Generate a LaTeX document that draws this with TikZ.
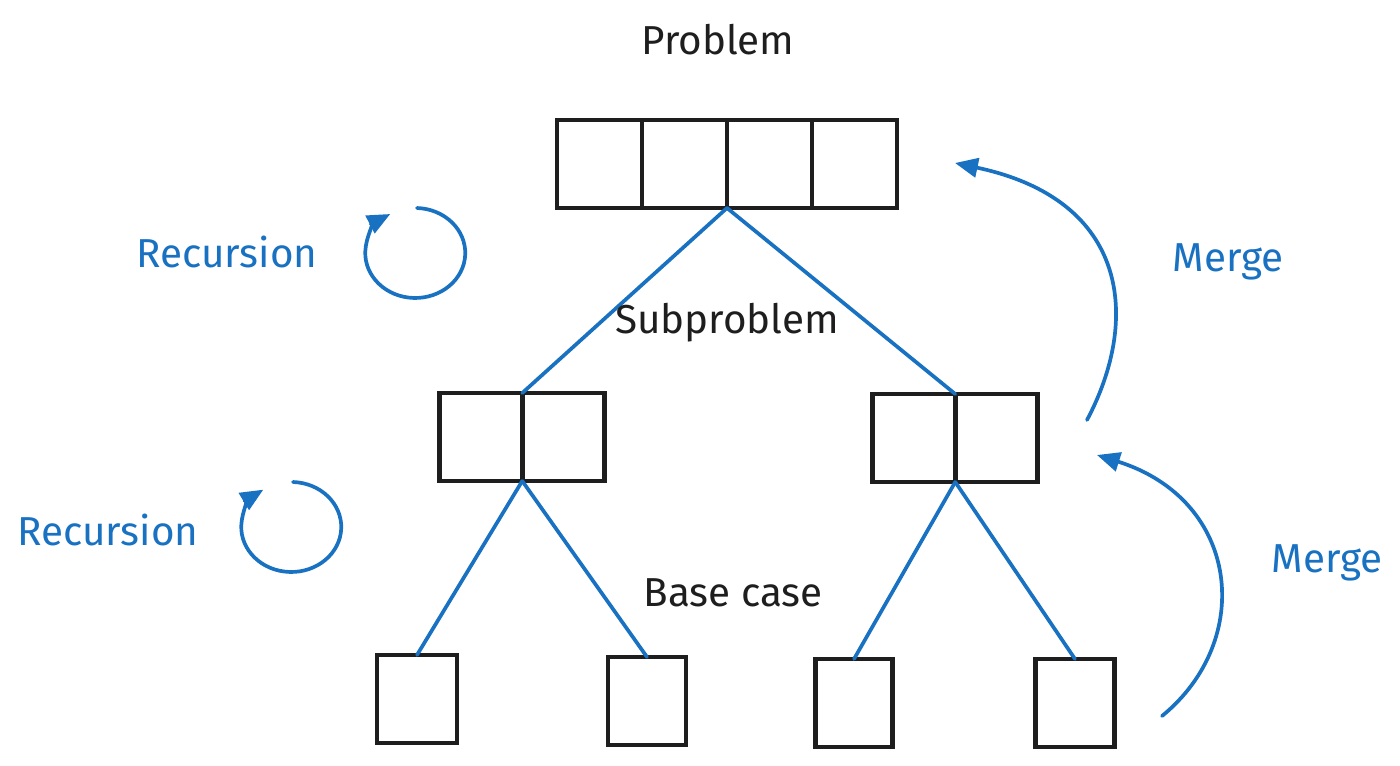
\documentclass[tikz,border=0pt]{standalone}
\usepackage{fontspec}
\setmainfont{Fira Sans}
\usetikzlibrary{arrows.meta}
\definecolor{ink}{HTML}{1E1E1E}
\definecolor{exblue}{HTML}{1971C2}
\begin{document}
\begin{tikzpicture}[x=0.02cm,y=-0.02cm,
  cell/.style={draw=ink,line width=2.8pt,minimum height=1.76cm,inner sep=0pt,outer sep=0pt},
  conn/.style={draw=exblue,line width=2.1pt,line cap=round},
  flow/.style={draw=exblue,line width=2.1pt,line cap=round,-{Triangle[length=13pt,width=11pt]}},
  lbl/.style={font=\fontsize{23}{27}\selectfont,text=ink},
  blbl/.style={font=\fontsize{23}{27}\selectfont,text=exblue}]
\useasboundingbox (0,0) rectangle (1400,765);
\fill[white] (0,0) rectangle (1400,765);
% top problem array
\node[cell,minimum width=1.7cm] (T1) at (599.5,164) {};
\node[cell,minimum width=1.7cm] (T2) at (684.5,164) {};
\node[cell,minimum width=1.7cm] (T3) at (769.5,164) {};
\node[cell,minimum width=1.7cm] (T4) at (854.5,164) {};
% subproblem arrays
\node[cell,minimum width=1.65cm] (L1) at (481,437) {};
\node[cell,minimum width=1.65cm] (L2) at (563.5,437) {};
\node[cell,minimum width=1.65cm] (R1) at (914,438) {};
\node[cell,minimum width=1.65cm] (R2) at (996.5,438) {};
% base cases
\node[cell,minimum width=1.6cm] (B1) at (417,699) {};
\node[cell,minimum width=1.56cm] (B2) at (647,701) {};
\node[cell,minimum width=1.54cm] (B3) at (854,703) {};
\node[cell,minimum width=1.58cm] (B4) at (1075,703) {};
% tree connectors
\draw[conn] (T2.south east) -- (L1.north east);
\draw[conn] (T2.south east) -- (R1.north east);
\draw[conn] (L1.south east) -- (B1.north);
\draw[conn] (L1.south east) -- (B2.north);
\draw[conn] (R1.south east) -- (B3.north);
\draw[conn] (R1.south east) -- (B4.north);
% labels
\node[lbl] (prob) at (718,40) {Problem};
\node[lbl] (sub) at (727,323) {Subproblem};
\node[lbl] (base) at (733,593) {Base case};
\node[blbl] (rec1) at (227,252) {Recursion};
\node[blbl] (rec2) at (108,530) {Recursion};
\node[blbl] (mrg1) at (1228,262) {Merge};
\node[blbl] (mrg2) at (1327,563) {Merge};
% recursion loops
\coordinate (c1) at (417,208);
\coordinate (c2) at (293,482);
\draw[flow] (c1) arc[start angle=272,end angle=600,x radius=50,y radius=45];
\draw[flow] (c2) arc[start angle=272,end angle=596,x radius=50,y radius=45];
% merge arrows
\coordinate (m1s) at (1087,420);
\coordinate (m1e) at (955,163);
\coordinate (m2s) at (1162,716);
\coordinate (m2e) at (1097,455);
\draw[flow] (m1s) .. controls (1140,320) and (1130,200) .. (m1e);
\draw[flow] (m2s) .. controls (1255,640) and (1240,500) .. (m2e);
\end{tikzpicture}
\end{document}
